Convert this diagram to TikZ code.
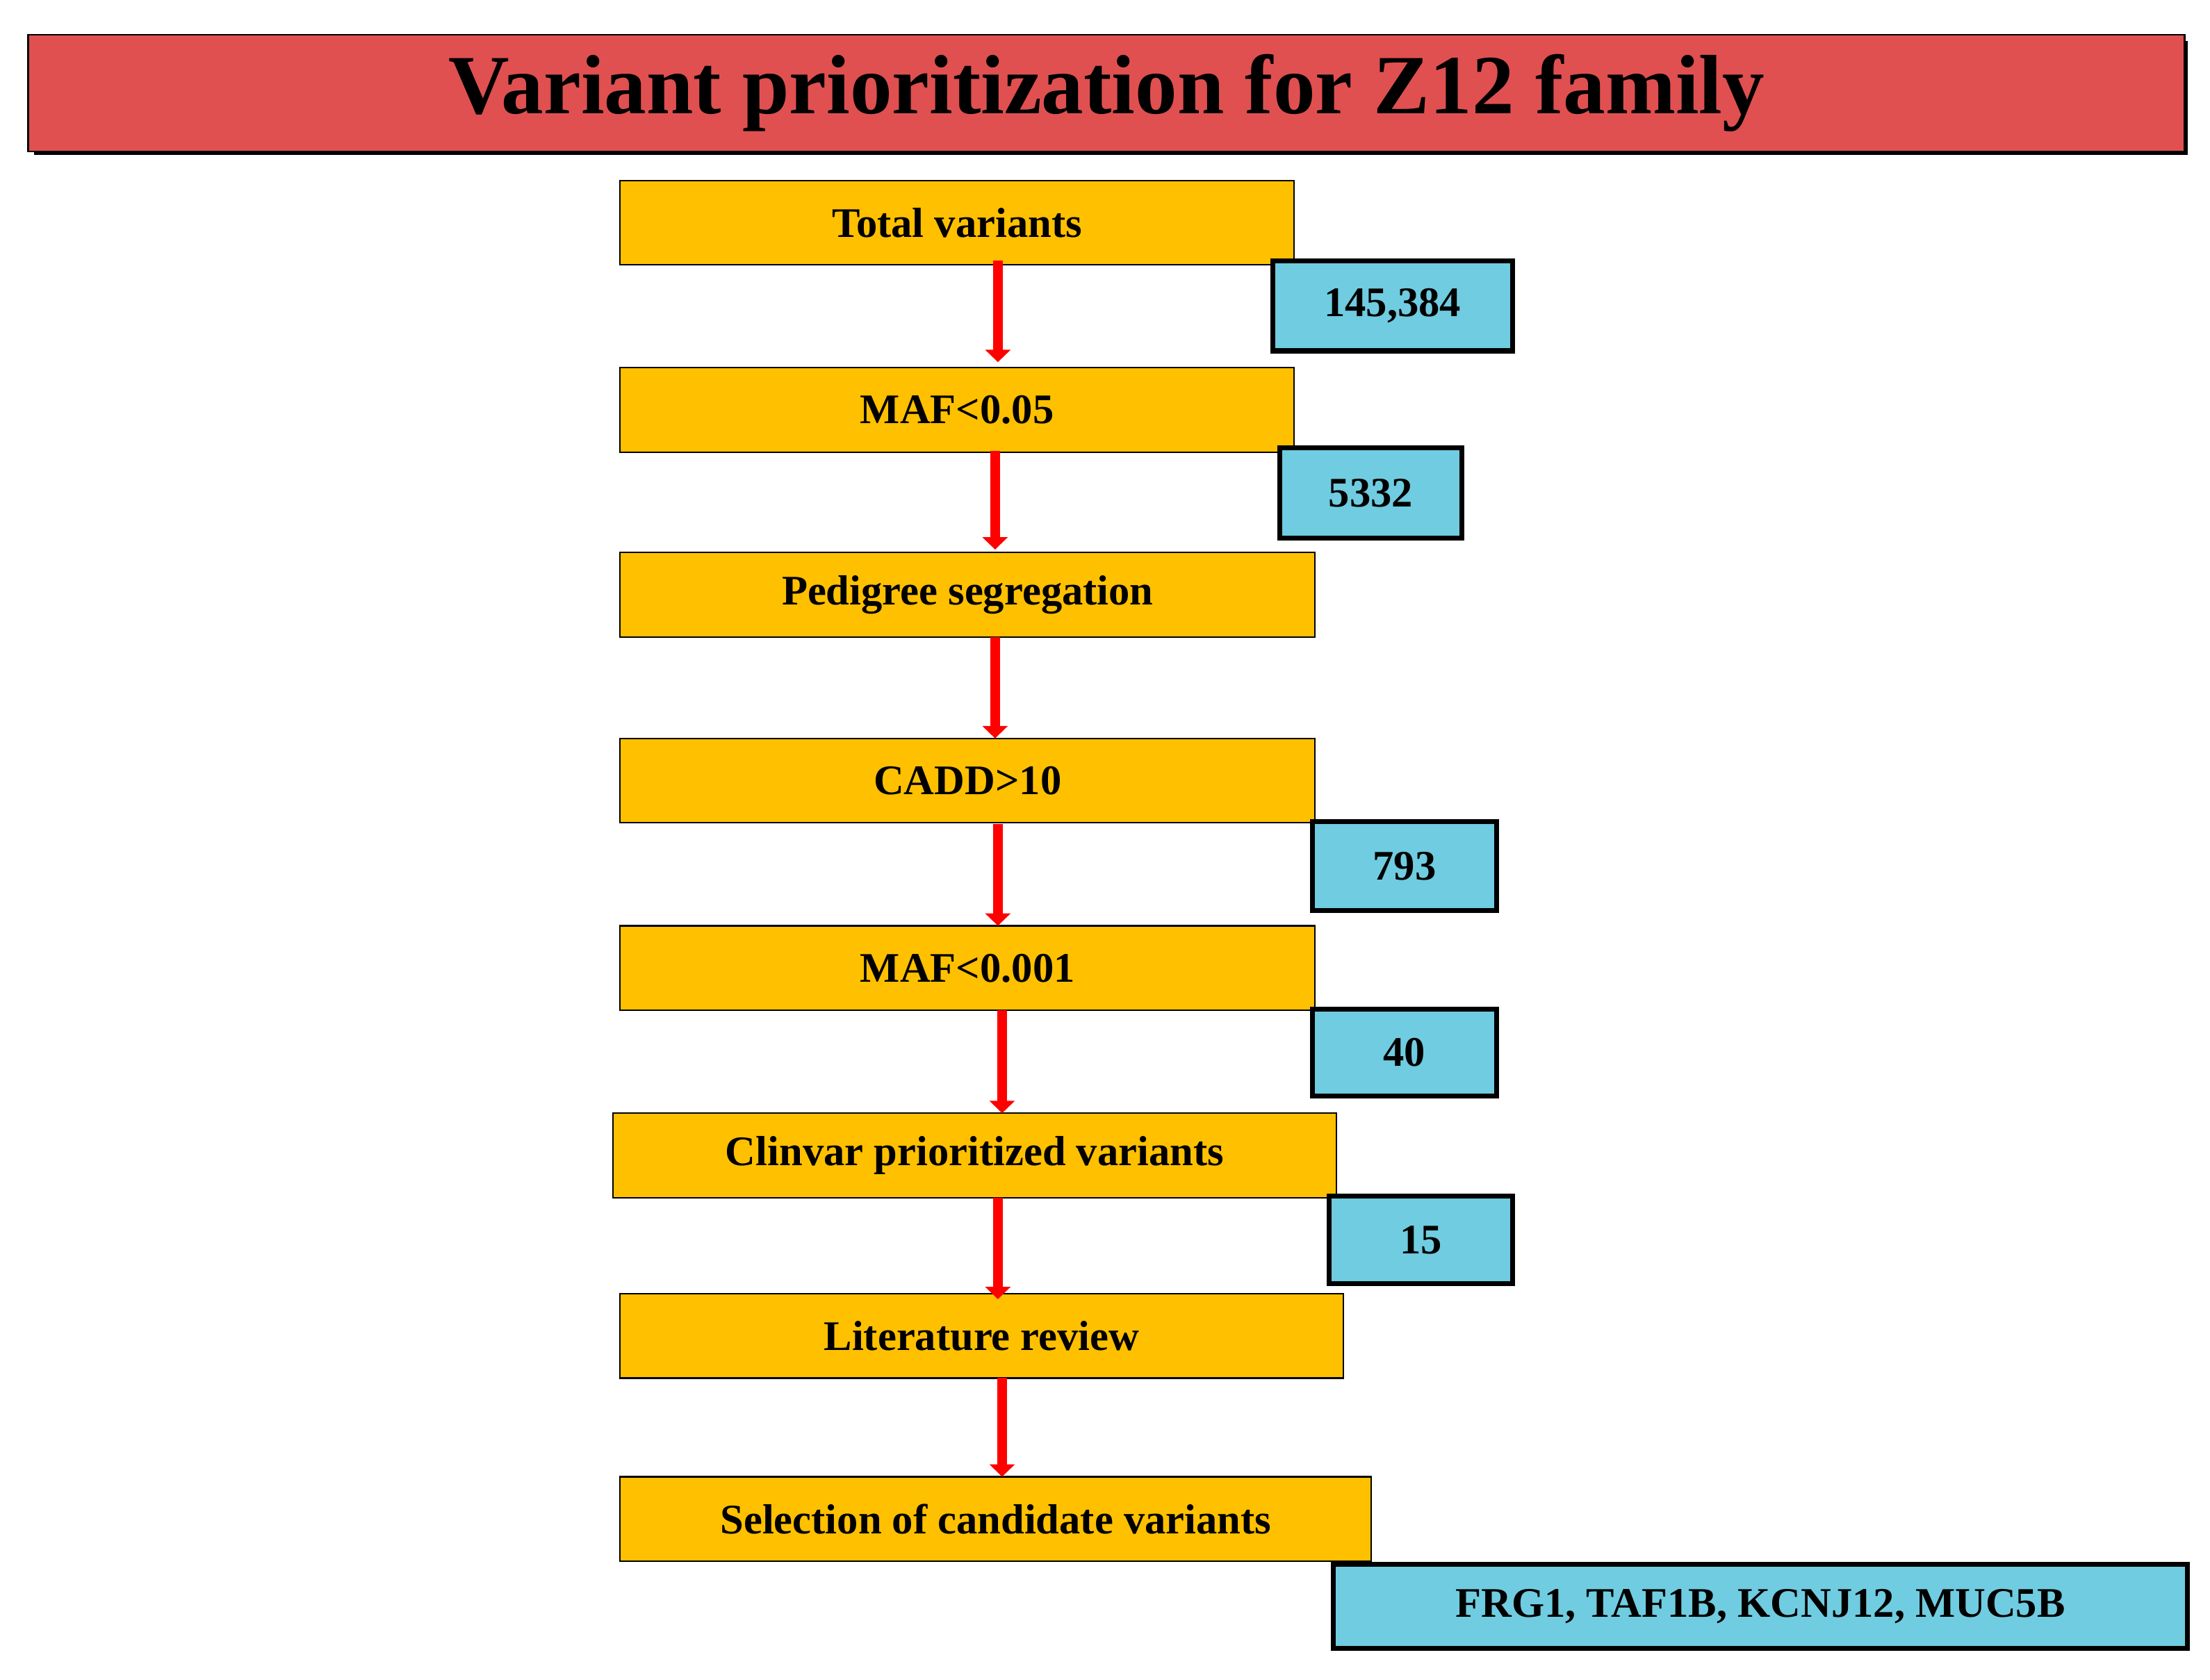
\documentclass[tikz,border=0pt]{standalone}
\usepackage{fontspec}
\setmainfont{Liberation Serif}
\usetikzlibrary{arrows.meta}
\definecolor{tred}{HTML}{E05050}
\definecolor{borange}{HTML}{FFC000}
\definecolor{bblue}{HTML}{70CCE0}
\tikzset{
 stepbox/.style={draw=black,line width=0.6pt,fill=borange,inner sep=0pt,minimum height=12mm,font=\fontsize{17}{20}\selectfont\bfseries},
 countbox/.style={draw=black,line width=2pt,fill=bblue,inner sep=0pt,font=\fontsize{17}{20}\selectfont\bfseries},
 flow/.style={draw=red,line width=4pt,-{Triangle[length=5pt,width=10pt]}}
}
\begin{document}
\begin{tikzpicture}[x=0.2mm,y=-0.2mm]
\useasboundingbox (0,0) rectangle (1568,1192);
\fill[black] (24,29) rectangle (1552,110);
\node[draw=black,line width=0.6pt,fill=tred,minimum width=306mm,minimum height=16.6mm,inner sep=0pt,font=\fontsize{34}{40}\selectfont\bfseries] (title) at (785,66) {Variant prioritization for Z12 family};
\node[stepbox,minimum width=95.6mm] (s1) at (679,158) {Total variants};
\node[stepbox,minimum width=95.6mm] (s2) at (679,291) {MAF<0.05};
\node[stepbox,minimum width=98.6mm] (s3) at (686.5,422) {Pedigree segregation};
\node[stepbox,minimum width=98.6mm] (s4) at (686.5,554) {CADD>10};
\node[stepbox,minimum width=98.6mm] (s5) at (686.5,687) {MAF<0.001};
\node[stepbox,minimum width=102.6mm] (s6) at (691.5,820) {Clinvar prioritized variants};
\node[stepbox,minimum width=102.6mm] (s7) at (696.5,948) {Literature review};
\node[stepbox,minimum width=106.6mm] (s8) at (706.5,1078) {Selection of candidate variants};
\node[countbox,minimum width=34mm,minimum height=12.8mm] (c1) at (988,217) {145,384};
\node[countbox,minimum width=25.8mm,minimum height=12.8mm] (c2) at (972.5,350) {5332};
\node[countbox,minimum width=26.2mm,minimum height=12.6mm] (c3) at (996.5,614.5) {793};
\node[countbox,minimum width=26.2mm,minimum height=12.4mm] (c4) at (996.5,747) {40};
\node[countbox,minimum width=26mm,minimum height=12.4mm] (c5) at (1008,880) {15};
\node[countbox,minimum width=121.2mm,minimum height=12mm] (c6) at (1249,1140) {FRG1, TAF1B, KCNJ12, MUC5B};
\coordinate (a1) at (708,185); \coordinate (b1) at (708,257);
\coordinate (a2) at (706,320); \coordinate (b2) at (706,390);
\coordinate (a3) at (706,452); \coordinate (b3) at (706,524);
\coordinate (a4) at (708,585); \coordinate (b4) at (708,657);
\coordinate (a5) at (711,717); \coordinate (b5) at (711,790);
\coordinate (a6) at (708,850); \coordinate (b6) at (708,922);
\coordinate (a7) at (711,978); \coordinate (b7) at (711,1048);
\foreach \i in {1,...,7} \draw[flow] (a\i) -- (b\i);
\end{tikzpicture}
\end{document}
